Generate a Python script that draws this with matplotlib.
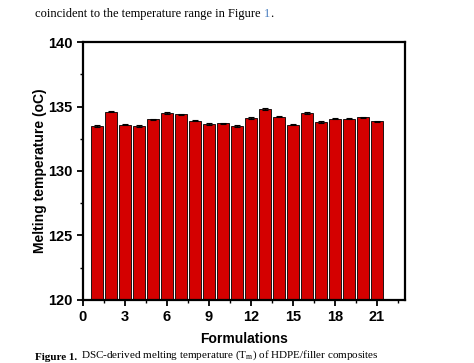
import numpy as np
import matplotlib; matplotlib.use("Agg")
import matplotlib.pyplot as plt
from matplotlib.ticker import MultipleLocator

# melting temperature per formulation
FORM = list(range(1, 22))
TM = [133.5, 134.6, 133.6, 133.5, 134.0, 134.5, 134.4, 133.9, 133.65, 133.7,
      133.5, 134.1, 134.8, 134.2, 133.6, 134.5, 133.8, 134.05, 134.05, 134.15, 133.85]
ERR = [0.05]*21
XTICKS = [0, 3, 6, 9, 12, 15, 18, 21]
YTICKS = [120, 125, 130, 135, 140]

plt.rcParams["font.family"] = ["Liberation Sans", "DejaVu Sans"]
fig = plt.figure(figsize=(4.74, 3.63), dpi=100)
ax = fig.add_axes([0.175, 0.174, 0.679, 0.71])

ax.bar(FORM, TM, width=0.85, color="#d40000", edgecolor="black", lw=0.6,
       yerr=ERR, capsize=2, error_kw={"elinewidth": 0.8, "capthick": 0.8})
ax.set_xlim(0, 23)
ax.set_ylim(120, 140)
ax.set_xticks(XTICKS)
ax.set_yticks(YTICKS)
ax.xaxis.set_minor_locator(MultipleLocator(1.5))
ax.yaxis.set_minor_locator(MultipleLocator(2.5))
ax.tick_params(which="major", length=4, width=1.3, labelsize=10.5)
ax.tick_params(which="minor", length=2.5, width=1.0)
for lab in ax.get_xticklabels()+ax.get_yticklabels():
    lab.set_fontweight("bold")
for s in ax.spines.values():
    s.set_linewidth(1.6)
ax.set_xlabel("Formulations", fontsize=10, fontweight="bold", labelpad=5.5)
ax.set_ylabel("Melting temperature (oC)", fontsize=10, fontweight="bold", labelpad=1)

# surrounding page text
sf = ["Liberation Serif", "DejaVu Serif"]
t = fig.text(0.074, 0.962, "coincident to the temperature range in Figure ", family=sf,
             fontsize=9, va="center")
fig.canvas.draw()
bb = t.get_window_extent().transformed(fig.transFigure.inverted())
t2 = fig.text(bb.x1, 0.962, "1", family=sf, fontsize=9, va="center", color="#4a7fc0")
fig.canvas.draw()
bb2 = t2.get_window_extent().transformed(fig.transFigure.inverted())
fig.text(bb2.x1, 0.962, ".", family=sf, fontsize=9, va="center")

c = fig.text(0.074, 0.002, "Figure 1.", family=sf, fontsize=8, fontweight="bold", va="bottom")
fig.canvas.draw()
bb3 = c.get_window_extent().transformed(fig.transFigure.inverted())
fig.text(bb3.x1 + 0.008, 0.002, r"DSC-derived melting temperature (T$_\mathregular{m}$) of HDPE/filler composites",
         family=sf, fontsize=8, va="bottom")

fig.savefig("out.png", dpi=100)
